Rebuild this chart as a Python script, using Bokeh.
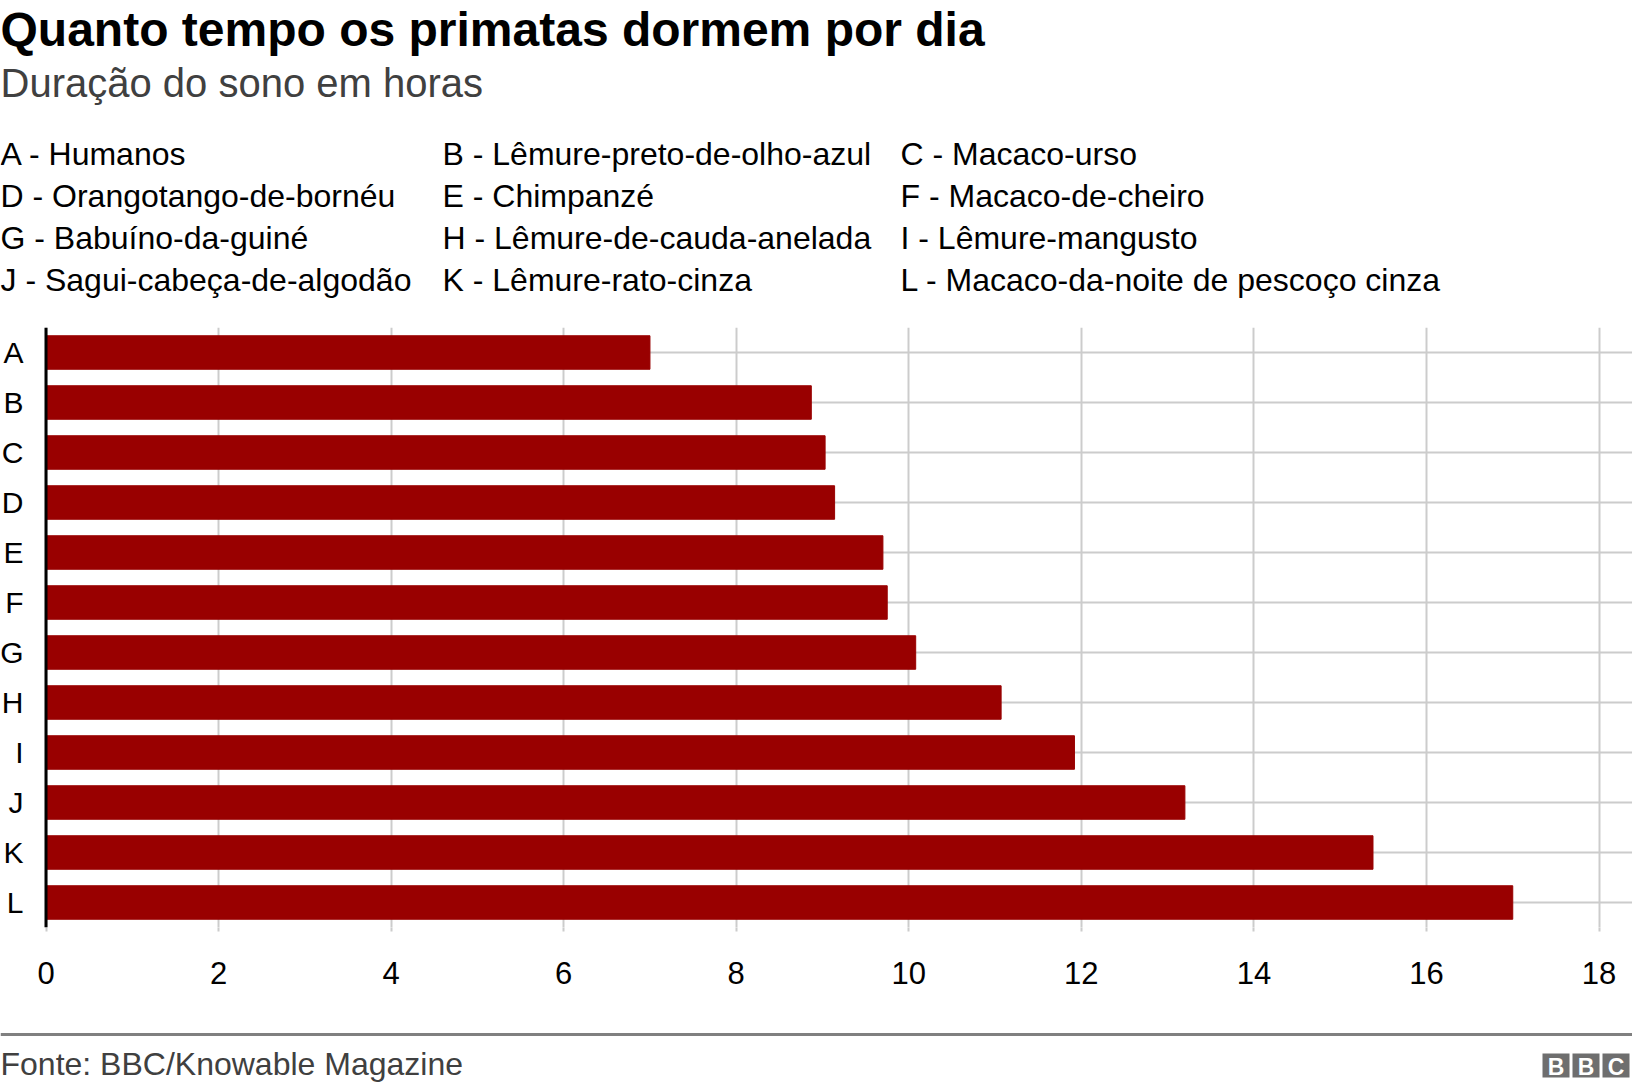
from bokeh.plotting import figure
from bokeh.layouts import column
from bokeh.models import FactorRange, Range1d, FixedTicker, Span
from bokeh.core.properties import value
from bokeh.embed import file_html
from bokeh.resources import INLINE

# ---- data ----
codes = ["A", "B", "C", "D", "E", "F", "G", "H", "I", "J", "K", "L"]
names = ["Humanos", "Lêmure-preto-de-olho-azul", "Macaco-urso",
         "Orangotango-de-bornéu", "Chimpanzé", "Macaco-de-cheiro",
         "Babuíno-da-guiné", "Lêmure-de-cauda-anelada", "Lêmure-mangusto",
         "Sagui-cabeça-de-algodão", "Lêmure-rato-cinza",
         "Macaco-da-noite de pescoço cinza"]
hours = [7.0, 8.87, 9.03, 9.14, 9.70, 9.75, 10.08, 11.07, 11.92, 13.2, 15.38, 17.0]
x_ticks = [0, 2, 4, 6, 8, 10, 12, 14, 16, 18]

title_text = "Quanto tempo os primatas dormem por dia"
subtitle_text = "Duração do sono em horas"
source_text = "Fonte: BBC/Knowable Magazine"
logo_letters = ["B", "B", "C"]

# ---- layout constants (canvas px) ----
W = 1632
TOP_H = 327        # header block height (= frame top of chart)
CHART_H = 693      # chart block: 600 px frame + 93 px bottom axis
FOOT_H = 70        # footer block
ZERO_PX = 45.5     # canvas x of value 0
PX_PER_UNIT = 86.28
X_START = -ZERO_PX / PX_PER_UNIT
X_END = (W - ZERO_PX) / PX_PER_UNIT
LABEL_X = (23 - ZERO_PX) / PX_PER_UNIT   # right edge of category letters
FONT = "Liberation Sans"


def blank_fig(height, y0):
    f = figure(width=W, height=height, x_range=Range1d(0, W),
               y_range=Range1d(y0 + height, y0),
               x_axis_type=None, y_axis_type=None,
               output_backend="svg", toolbar_location=None,
               min_border=0)
    f.grid.visible = False
    f.outline_line_color = None
    f.background_fill_color = "white"
    f.border_fill_color = "white"
    return f


# ---- header ----
top = blank_fig(TOP_H, 0)
top.text(x=[0], y=[29], text=[title_text], text_font=value(FONT),
         text_font_size="48px", text_font_style="bold", text_color="#000000",
         text_baseline="middle", text_align="left")
top.text(x=[0], y=[82], text=[subtitle_text], text_font=value(FONT),
         text_font_size="40px", text_color="#404040",
         text_baseline="middle", text_align="left")

col_x = [0, 442, 900]
row_y = [153, 195, 237, 279]
leg_x = [col_x[i % 3] for i in range(len(codes))]
leg_y = [row_y[i // 3] for i in range(len(codes))]
leg_t = [f"{c} - {n}" for c, n in zip(codes, names)]
top.text(x=leg_x, y=leg_y, text=leg_t, text_font=value(FONT),
         text_font_size="32px", text_color="#000000",
         text_baseline="middle", text_align="left")

# ---- chart ----
p = figure(width=W, height=CHART_H,
           y_range=FactorRange(factors=codes[::-1]),
           x_range=Range1d(X_START, X_END),
           output_backend="svg", toolbar_location=None,
           min_border_left=0, min_border_right=0,
           min_border_top=0, min_border_bottom=CHART_H - 600)
p.yaxis.visible = False
p.outline_line_color = None
p.background_fill_color = "white"
p.border_fill_color = "white"

p.xgrid.ticker = FixedTicker(ticks=x_ticks)
p.xgrid.grid_line_color = "#cccccc"
p.xgrid.grid_line_width = 2

p.ygrid.grid_line_color = "#cccccc"
p.ygrid.grid_line_width = 2
if "cross_bounds" in p.ygrid.properties():
    p.ygrid.cross_bounds = (0, X_END)
else:
    p.ygrid.grid_line_color = None
    p.segment(x0=[0] * len(codes), x1=[X_END] * len(codes), y0=codes, y1=codes,
              line_color="#cccccc", line_width=2)

p.hbar(y=codes, right=hours, left=0, height=0.67, color="#990000")

# y "axis": black line at value 0 and category letters
p.add_layout(Span(location=0, dimension="height", line_color="#000000", line_width=3))
p.text(x=[LABEL_X] * len(codes), y=codes, text=codes, text_font=value(FONT),
       text_font_size="30px", text_color="#000000",
       text_align="right", text_baseline="middle")

p.xaxis.ticker = FixedTicker(ticks=x_ticks)
p.xaxis.axis_line_color = None
p.xaxis.major_tick_line_color = "#cccccc"
p.xaxis.major_tick_line_width = 2
p.xaxis.major_tick_out = 4
p.xaxis.major_tick_in = 0
p.xaxis.minor_tick_line_color = None
p.xaxis.major_label_standoff = 30
p.xaxis.major_label_text_font = FONT
p.xaxis.major_label_text_font_size = "31px"
p.xaxis.major_label_text_color = "#000000"

# ---- footer ----
foot = blank_fig(FOOT_H, TOP_H + CHART_H)
foot.segment(x0=[0], y0=[1034], x1=[W], y1=[1034], line_color="#808080", line_width=3)
foot.text(x=[0], y=[1063], text=[source_text], text_font=value(FONT),
          text_font_size="32px", text_color="#404040",
          text_baseline="middle", text_align="left")
logo_left = [1542, 1572, 1602]
foot.quad(left=logo_left, right=[v + 27 for v in logo_left],
          top=[1053] * 3, bottom=[1077] * 3, fill_color="#6e6e6e", line_color=None)
foot.text(x=[v + 13.5 for v in logo_left], y=[1066] * 3, text=logo_letters,
          text_font=value(FONT), text_font_size="23px", text_font_style="bold",
          text_color="white", text_align="center", text_baseline="middle")

layout = column(top, p, foot, spacing=0)
open("out.html", "w").write(file_html(layout, INLINE))
